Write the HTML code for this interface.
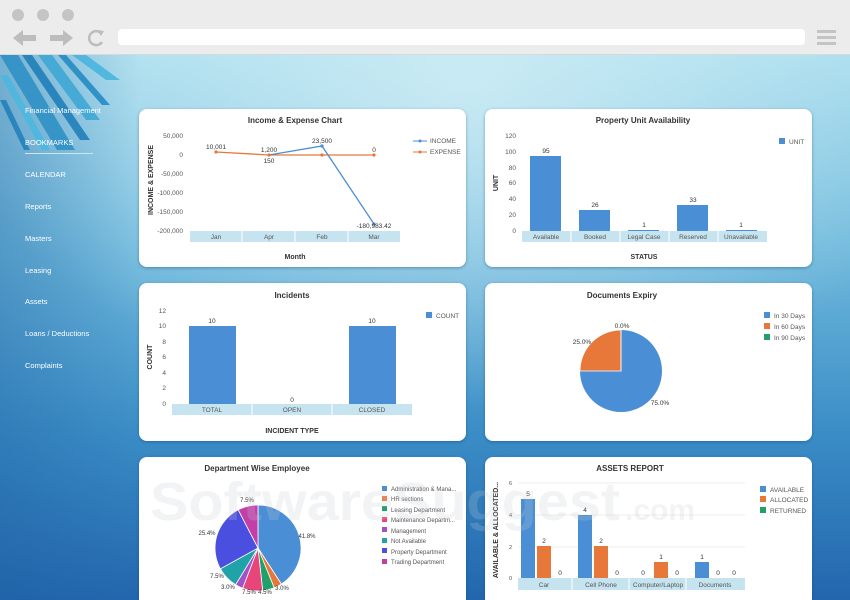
<!DOCTYPE html>
<html><head><meta charset="utf-8"><style>
html,body{margin:0;padding:0;width:850px;height:600px;overflow:hidden;background:#fff}
svg{display:block}
text{font-family:"Liberation Sans",sans-serif}
</style></head><body>
<svg width="850" height="600" viewBox="0 0 850 600" xmlns="http://www.w3.org/2000/svg">
<defs>
<linearGradient id="bg" x1="0" y1="0" x2="0" y2="1">
<stop offset="0" stop-color="#a6dced"/><stop offset="0.35" stop-color="#6fb9dc"/><stop offset="0.7" stop-color="#3a8cc6"/><stop offset="1" stop-color="#2366ad"/>
</linearGradient>
<radialGradient id="glow" cx="0.55" cy="0.05" r="0.6">
<stop offset="0" stop-color="#d4eff6" stop-opacity="0.8"/><stop offset="1" stop-color="#d4eff6" stop-opacity="0"/>
</radialGradient>
<linearGradient id="side" x1="0" y1="0" x2="1" y2="0">
<stop offset="0" stop-color="#1d5fa0" stop-opacity="0.35"/><stop offset="1" stop-color="#1d5fa0" stop-opacity="0"/>
</linearGradient>
<filter id="sh"><feDropShadow dx="0" dy="1" stdDeviation="1.5" flood-color="#0a3a6a" flood-opacity="0.4"/></filter>
</defs>
<rect x="0" y="55" width="850" height="545" fill="url(#bg)"/>
<rect x="0" y="55" width="850" height="545" fill="url(#glow)"/>
<rect x="0" y="55" width="140" height="545" fill="url(#side)"/>
<g opacity="0.85">
<polygon points="0,55 18,55 75,150 57,150" fill="#2a8fc4"/>
<polygon points="22,55 32,55 90,140 80,140" fill="#1a7cb8"/>
<polygon points="38,55 52,55 100,120 86,120" fill="#3aa6d6"/>
<polygon points="58,55 66,55 110,105 102,105" fill="#1e88c2"/>
<polygon points="72,55 86,55 120,80 106,80" fill="#45b3dd"/>
<polygon points="0,75 8,75 50,150 42,150" fill="#4ab8e0"/>
<polygon points="0,100 6,100 30,150 24,150" fill="#1f7fba"/>
</g>
<rect x="0" y="0" width="850" height="55" fill="#ececec"/>
<rect x="0" y="54" width="850" height="1" fill="#d8d8d8"/>
<circle cx="18" cy="15" r="6" fill="#c4c4c4"/><circle cx="43" cy="15" r="6" fill="#c4c4c4"/><circle cx="68" cy="15" r="6" fill="#c4c4c4"/>
<polygon points="13,38 23,30 23,35 36,35 36,41 23,41 23,46" fill="#bdbdbd"/>
<polygon points="73,38 63,30 63,35 50,35 50,41 63,41 63,46" fill="#bdbdbd"/>
<path d="M101,33 A7,7 0 1 0 102,42" stroke="#bdbdbd" stroke-width="2.5" fill="none"/>
<polygon points="97,30 104,31 101,36" fill="#bdbdbd"/>
<rect x="118" y="29" width="687" height="16" rx="4" fill="#fff"/>
<rect x="817" y="30" width="19" height="3" fill="#c4c4c4"/><rect x="817" y="36" width="19" height="3" fill="#c4c4c4"/><rect x="817" y="42" width="19" height="3" fill="#c4c4c4"/>
<g fill="#fff" font-size="7.5">
<text x="25" y="113">Financial Management</text>
<text x="25" y="145">BOOKMARKS</text>
<rect x="25" y="153" width="68" height="1" fill="#cfe6f2"/>
<text x="25" y="177">CALENDAR</text>
<text x="25" y="209">Reports</text>
<text x="25" y="241">Masters</text>
<text x="25" y="273">Leasing</text>
<text x="25" y="304">Assets</text>
<text x="25" y="336">Loans / Deductions</text>
<text x="25" y="368">Complaints</text>
</g>
<g fill="#fff" filter="url(#sh)">
<rect x="139" y="109" width="327" height="158" rx="8"/>
<rect x="485" y="109" width="327" height="158" rx="8"/>
<rect x="139" y="283" width="327" height="158" rx="8"/>
<rect x="485" y="283" width="327" height="158" rx="8"/>
<rect x="139" y="457" width="327" height="160" rx="8"/>
<rect x="485" y="457" width="327" height="160" rx="8"/>
</g>
<g font-size="6.5" fill="#555">
<text x="295" y="123" text-anchor="middle" font-weight="bold" font-size="8" fill="#333">Income &amp; Expense Chart</text>
<g text-anchor="end"><text x="183" y="138">50,000</text><text x="183" y="157">0</text><text x="183" y="176">-50,000</text><text x="183" y="195">-100,000</text><text x="183" y="214">-150,000</text><text x="183" y="233">-200,000</text></g>
<rect x="190" y="231" width="210" height="11" fill="#c6e4f0"/>
<g stroke="#fff" stroke-width="1"><line x1="242" y1="231" x2="242" y2="242"/><line x1="295" y1="231" x2="295" y2="242"/><line x1="348" y1="231" x2="348" y2="242"/></g>
<g text-anchor="middle"><text x="216" y="239">Jan</text><text x="269" y="239">Apr</text><text x="322" y="239">Feb</text><text x="374" y="239">Mar</text></g>
<polyline points="216,152 269,155 322,155 374,155" stroke="#e8773a" stroke-width="1.3" fill="none"/>
<polyline points="269,155 322,146 374,224" stroke="#4a8fd6" stroke-width="1.3" fill="none"/>
<g fill="#e8773a"><circle cx="216" cy="152" r="1.6"/><circle cx="269" cy="155" r="1.6"/><circle cx="322" cy="155" r="1.6"/><circle cx="374" cy="155" r="1.6"/></g>
<g fill="#4a8fd6"><circle cx="322" cy="146" r="1.6"/><circle cx="374" cy="224" r="1.6"/></g>
<g text-anchor="middle" fill="#333"><text x="216" y="149">10,001</text><text x="269" y="152">1,200</text><text x="269" y="163">150</text><text x="322" y="143">23,500</text><text x="374" y="152">0</text><text x="374" y="228">-180,983.42</text></g>
<line x1="413" y1="141" x2="427" y2="141" stroke="#4a8fd6"/><circle cx="420" cy="141" r="1.5" fill="#4a8fd6"/><text x="430" y="143">INCOME</text>
<line x1="413" y1="152" x2="427" y2="152" stroke="#e8773a"/><circle cx="420" cy="152" r="1.5" fill="#e8773a"/><text x="430" y="154">EXPENSE</text>
<text transform="translate(153,180) rotate(-90)" text-anchor="middle" font-weight="bold" font-size="7" fill="#333">INCOME &amp; EXPENSE</text>
<text x="295" y="259" text-anchor="middle" font-weight="bold" font-size="7" fill="#333">Month</text>
</g>
<g font-size="6.5" fill="#555">
<text x="643" y="123" text-anchor="middle" font-weight="bold" font-size="8" fill="#333">Property Unit Availability</text>
<g text-anchor="end"><text x="516" y="138">120</text><text x="516" y="154">100</text><text x="516" y="170">80</text><text x="516" y="185">60</text><text x="516" y="201">40</text><text x="516" y="217">20</text><text x="516" y="233">0</text></g>
<rect x="522" y="231" width="245" height="11" fill="#c6e4f0"/>
<g stroke="#fff"><line x1="571" y1="231" x2="571" y2="242"/><line x1="620" y1="231" x2="620" y2="242"/><line x1="669" y1="231" x2="669" y2="242"/><line x1="718" y1="231" x2="718" y2="242"/></g>
<g fill="#4a8fd6"><rect x="530" y="156" width="31" height="75"/><rect x="579" y="210" width="31" height="21"/><rect x="628" y="230" width="31" height="1"/><rect x="677" y="205" width="31" height="26"/><rect x="726" y="230" width="31" height="1"/></g>
<g text-anchor="middle" fill="#333"><text x="546" y="153">95</text><text x="595" y="207">26</text><text x="644" y="227">1</text><text x="693" y="202">33</text><text x="741" y="227">1</text></g>
<g text-anchor="middle"><text x="546" y="239">Available</text><text x="595" y="239">Booked</text><text x="644" y="239">Legal Case</text><text x="693" y="239">Reserved</text><text x="741" y="239">Unavailable</text></g>
<rect x="779" y="138" width="6" height="6" fill="#4a8fd6"/><text x="789" y="144">UNIT</text>
<text transform="translate(498,183) rotate(-90)" text-anchor="middle" font-weight="bold" font-size="7" fill="#333">UNIT</text>
<text x="644" y="259" text-anchor="middle" font-weight="bold" font-size="7" fill="#333">STATUS</text>
</g>
<g font-size="6.5" fill="#555">
<text x="292" y="298" text-anchor="middle" font-weight="bold" font-size="8" fill="#333">Incidents</text>
<g text-anchor="end"><text x="166" y="313">12</text><text x="166" y="328">10</text><text x="166" y="344">8</text><text x="166" y="359">6</text><text x="166" y="375">4</text><text x="166" y="390">2</text><text x="166" y="406">0</text></g>
<rect x="172" y="404" width="240" height="11" fill="#c6e4f0"/>
<g stroke="#fff"><line x1="252" y1="404" x2="252" y2="415"/><line x1="332" y1="404" x2="332" y2="415"/></g>
<g fill="#4a8fd6"><rect x="189" y="326" width="47" height="78"/><rect x="349" y="326" width="47" height="78"/></g>
<g text-anchor="middle" fill="#333"><text x="212" y="323">10</text><text x="292" y="402">0</text><text x="372" y="323">10</text></g>
<g text-anchor="middle"><text x="212" y="412">TOTAL</text><text x="292" y="412">OPEN</text><text x="372" y="412">CLOSED</text></g>
<rect x="426" y="312" width="6" height="6" fill="#4a8fd6"/><text x="436" y="318">COUNT</text>
<text transform="translate(152,357) rotate(-90)" text-anchor="middle" font-weight="bold" font-size="7" fill="#333">COUNT</text>
<text x="292" y="433" text-anchor="middle" font-weight="bold" font-size="7" fill="#333">INCIDENT TYPE</text>
</g>
<g font-size="6.5" fill="#555">
<text x="622" y="298" text-anchor="middle" font-weight="bold" font-size="8" fill="#333">Documents Expiry</text>
<circle cx="621" cy="371" r="41" fill="#4a8fd6"/>
<path d="M621,371 L621,330 A41,41 0 0 0 580,371 Z" fill="#e8773a" stroke="#fff" stroke-width="0.8"/>
<line x1="621" y1="371" x2="621" y2="330" stroke="#fff" stroke-width="0.8"/>
<g fill="#333" text-anchor="middle"><text x="622" y="328">0.0%</text><text x="582" y="344">25.0%</text><text x="660" y="405">75.0%</text></g>
<rect x="764" y="312" width="6" height="6" fill="#4a8fd6"/><text x="774" y="318">In 30 Days</text>
<rect x="764" y="323" width="6" height="6" fill="#e8773a"/><text x="774" y="329">In 60 Days</text>
<rect x="764" y="334" width="6" height="6" fill="#22a06b"/><text x="774" y="340">In 90 Days</text>
</g>
<g font-size="6" fill="#555">
<text x="257" y="471" text-anchor="middle" font-weight="bold" font-size="8" fill="#333">Department Wise Employee</text>
<g stroke="#fff" stroke-width="0.8">
<path d="M258,548 L258.0,505.0 A43,43 0 0 1 281.4,584.1 Z" fill="#4a8fd6"/>
<path d="M258,548 L281.4,584.1 A43,43 0 0 1 274.2,587.8 Z" fill="#e8773a"/>
<path d="M258,548 L274.2,587.8 A43,43 0 0 1 262.7,590.7 Z" fill="#22a06b"/>
<path d="M258,548 L262.7,590.7 A43,43 0 0 1 242.7,588.2 Z" fill="#e8457a"/>
<path d="M258,548 L242.7,588.2 A43,43 0 0 1 235.6,584.7 Z" fill="#a052c8"/>
<path d="M258,548 L235.6,584.7 A43,43 0 0 1 220.4,568.8 Z" fill="#1fa3a8"/>
<path d="M258,548 L220.4,568.8 A43,43 0 0 1 238.2,509.8 Z" fill="#4b4fe0"/>
<path d="M258,548 L238.2,509.8 A43,43 0 0 1 258.0,505.0 Z" fill="#c23fa8"/>
</g>
<g fill="#333" text-anchor="middle"><text x="247" y="502">7.5%</text><text x="307" y="538">41.8%</text><text x="207" y="535">25.4%</text><text x="217" y="578">7.5%</text><text x="228" y="589">3.0%</text><text x="249" y="594">7.5%</text><text x="265" y="594">4.5%</text><text x="282" y="590">3.0%</text></g>
<g>
<rect x="382" y="486" width="5" height="5" fill="#4a8fd6"/><text x="391" y="491">Administration &amp; Mana...</text>
<rect x="382" y="496" width="5" height="5" fill="#e8773a"/><text x="391" y="501">HR sections</text>
<rect x="382" y="506" width="5" height="5" fill="#22a06b"/><text x="391" y="512">Leasing Department</text>
<rect x="382" y="517" width="5" height="5" fill="#e8457a"/><text x="391" y="522">Maintenance Departm...</text>
<rect x="382" y="527" width="5" height="5" fill="#a052c8"/><text x="391" y="533">Management</text>
<rect x="382" y="538" width="5" height="5" fill="#1fa3a8"/><text x="391" y="543">Not Available</text>
<rect x="382" y="548" width="5" height="5" fill="#4b4fe0"/><text x="391" y="554">Property Department</text>
<rect x="382" y="559" width="5" height="5" fill="#c23fa8"/><text x="391" y="564">Trading Department</text>
</g>
</g>
<g font-size="6.5" fill="#555">
<text x="630" y="471" text-anchor="middle" font-weight="bold" font-size="8" fill="#333">ASSETS REPORT</text>
<g stroke="#eee"><line x1="518" y1="483" x2="745" y2="483"/><line x1="518" y1="515" x2="745" y2="515"/><line x1="518" y1="547" x2="745" y2="547"/></g>
<g text-anchor="end" font-size="5.5"><text x="512" y="485">6</text><text x="512" y="517">4</text><text x="512" y="549">2</text><text x="512" y="580">0</text></g>
<rect x="518" y="578" width="227" height="12" fill="#c6e4f0"/>
<g stroke="#fff"><line x1="572" y1="578" x2="572" y2="590"/><line x1="629" y1="578" x2="629" y2="590"/><line x1="686" y1="578" x2="686" y2="590"/></g>
<g fill="#4a8fd6"><rect x="521" y="499" width="14" height="79"/><rect x="578" y="515" width="14" height="63"/><rect x="695" y="562" width="14" height="16"/></g>
<g fill="#e8773a"><rect x="537" y="546" width="14" height="32"/><rect x="594" y="546" width="14" height="32"/><rect x="654" y="562" width="14" height="16"/></g>
<g text-anchor="middle" fill="#333"><text x="528" y="496">5</text><text x="544" y="543">2</text><text x="560" y="575">0</text><text x="585" y="512">4</text><text x="601" y="543">2</text><text x="617" y="575">0</text><text x="643" y="575">0</text><text x="661" y="559">1</text><text x="677" y="575">0</text><text x="702" y="559">1</text><text x="718" y="575">0</text><text x="734" y="575">0</text></g>
<g text-anchor="middle"><text x="544" y="587">Car</text><text x="601" y="587">Cell Phone</text><text x="658" y="587">Computer/Laptop</text><text x="715" y="587">Documents</text></g>
<rect x="760" y="486" width="6" height="6" fill="#4a8fd6"/><text x="770" y="492">AVAILABLE</text>
<rect x="760" y="496" width="6" height="6" fill="#e8773a"/><text x="770" y="502">ALLOCATED</text>
<rect x="760" y="507" width="6" height="6" fill="#22a06b"/><text x="770" y="513">RETURNED</text>
<text transform="translate(498,530) rotate(-90)" text-anchor="middle" font-weight="bold" font-size="7" fill="#333">AVAILABLE &amp; ALLOCATED...</text>
</g>
<text x="150" y="520" font-size="54" font-weight="bold" fill="#c5cbd1" opacity="0.22" textLength="470" lengthAdjust="spacingAndGlyphs">SoftwareSuggest</text>
<text x="625" y="520" font-size="30" font-weight="bold" fill="#c5cbd1" opacity="0.22">.com</text>
</svg>
</body></html>
